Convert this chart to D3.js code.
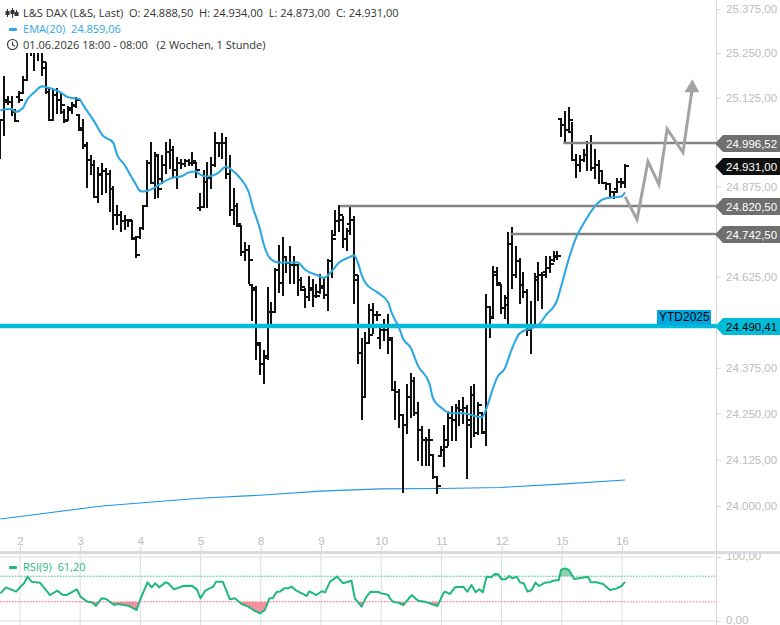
<!DOCTYPE html>
<html lang="de">
<head>
<meta charset="utf-8">
<title>L&amp;S DAX</title>
<script src="https://cdn.jsdelivr.net/npm/d3@7"></script>
<style>
  html, body { margin: 0; padding: 0; background: #fff; }
  svg { display: block; }
  .axis text { font-family: "Liberation Sans", Arial, sans-serif; font-size: 11.5px; fill: #bdbdbd; }
  .axis path, .axis line { stroke: #d6d6d6; }
  .legend { font-family: "Open Sans", sans-serif; font-size: 11.05px; }
  .tag { font-family: "Liberation Sans", Arial, sans-serif; font-size: 11.5px; }
</style>
</head>
<body>
<svg id="chart" width="780" height="625"></svg>
<script>
// Hourly OHLC bars, two weeks of L&S DAX
const highs = [25061,25182,25125,25125,25089,25139,25182,25250,25270,25270,25270,25270,25222,25151,25145,25148,25136,25089,25098,25109,25123,
25075,25061,24997,24959,24945,24928,24939,24925,24917,24875,24820,24803,24792,24783,24778,24736,24761,24820,24947,
24997,24970,24964,24959,24997,25006,24986,24956,24950,24950,24950,24970,24942,24853,24917,24942,24956,25025,24997,25022,
25011,24959,24867,24825,24764,24719,24711,24603,24597,24442,24422,24594,24553,24647,24711,24733,24680,24706,24680,24658,
24622,24592,24625,24617,24603,24630,24622,24672,24750,24806,24822,24789,24756,24814,24789,24628,24453,24469,24547,24550,
24528,24480,24505,24519,24455,24335,24313,24246,24327,24359,24348,24278,24213,24183,24205,24138,24078,24159,24216,24254,
24267,24273,24283,24291,24270,24321,24329,24278,24251,24575,24542,24653,24650,24603,24572,24745,24759,24708,24675,24636,
24589,24555,24633,24664,24636,24680,24680,24692,24692,25064,25084,25095,25053,24964,24959,24978,25000,25017,24978,24945,
24917,24886,24881,24861,24895,24895,24934];
const lows = [24956,25020,25106,25075,25059,25111,25136,25173,25244,25202,25230,25188,25136,25061,25061,25081,25081,25056,25061,25081,25098,
25034,24984,24875,24909,24845,24831,24853,24861,24806,24756,24770,24750,24756,24764,24728,24680,24733,24756,24820,
24886,24842,24847,24886,24914,24928,24903,24872,24928,24931,24936,24936,24903,24811,24817,24817,24872,24931,24959,24956,
24900,24797,24770,24764,24686,24672,24608,24505,24400,24359,24332,24400,24492,24528,24583,24575,24639,24608,24608,24575,
24589,24542,24561,24544,24569,24580,24567,24533,24625,24739,24750,24706,24700,24742,24553,24389,24235,24294,24442,24469,
24505,24428,24450,24416,24313,24235,24213,24038,24197,24240,24246,24124,24111,24111,24111,24075,24035,24135,24108,24165,
24178,24178,24219,24224,24075,24159,24189,24194,24197,24165,24458,24511,24603,24525,24511,24489,24594,24625,24553,24569,
24464,24416,24492,24561,24539,24625,24639,24667,24675,25017,24997,25028,24950,24903,24917,24945,24922,24922,24900,24886,
24886,24867,24847,24842,24861,24875,24873];
const opens = [25047,25061,25111,25111,25084,25125,25136,25173,25262,25262,25262,25262,25207,25139,25061,25131,25117,25084,25061,25089,25100,
25075,25039,24989,24950,24936,24845,24906,24917,24909,24867,24797,24797,24778,24781,24778,24728,24736,24759,24820,
24942,24886,24961,24895,24936,24972,24978,24922,24942,24939,24945,24942,24942,24814,24817,24889,24900,24936,24997,24997,
24997,24909,24811,24820,24764,24692,24700,24603,24589,24436,24386,24408,24492,24528,24644,24608,24678,24664,24658,24658,
24617,24589,24569,24589,24572,24583,24594,24575,24667,24739,24778,24783,24728,24770,24783,24617,24416,24294,24442,24533,
24519,24455,24478,24478,24455,24313,24308,24246,24219,24294,24340,24251,24205,24178,24178,24138,24078,24135,24151,24178,
24237,24232,24264,24259,24264,24219,24300,24197,24251,24197,24542,24514,24630,24603,24539,24547,24714,24630,24667,24603,
24583,24478,24492,24617,24630,24639,24650,24672,24683,25064,25047,25034,25028,24950,24936,24950,24964,24997,24928,24936,
24917,24886,24881,24859,24867,24889,24888.5];
const closes = [25061,25117,25111,25084,25059,25117,25173,25262,25262,25262,25262,25224,25151,25061,25131,25117,25103,25059,25095,25103,25117,
25034,24992,24950,24936,24845,24909,24917,24909,24867,24797,24797,24778,24781,24781,24733,24686,24759,24820,24942,
24886,24964,24867,24936,24972,24978,24922,24942,24939,24945,24942,24945,24922,24817,24889,24900,24936,24997,24997,24997,
24909,24811,24820,24770,24692,24700,24672,24594,24442,24386,24402,24528,24528,24644,24608,24678,24664,24658,24658,24617,
24597,24569,24594,24572,24572,24600,24575,24667,24728,24778,24795,24728,24750,24783,24630,24416,24294,24442,24464,24519,
24519,24478,24478,24450,24313,24308,24246,24219,24294,24340,24251,24205,24178,24178,24178,24078,24054,24151,24159,24237,
24232,24264,24259,24264,24232,24300,24197,24273,24200,24542,24511,24639,24608,24539,24567,24714,24630,24667,24603,24583,
24478,24492,24625,24630,24630,24650,24661,24678,24683,25047,25034,25061,24950,24936,24950,24964,24997,24928,24936,24917,
24886,24881,24861,24861,24889,24886,24931];

// EMA(20), sampled at bar positions
const emaBars = [0,3,4,6,7,9,11,13,16,18,21,22,25,27,30,31,33,34,36,37,38,41,43,46,48,50,52,53,55,58,60,61,64,66,67,69,70,72,74,76,79,81,84,86,88,90,92,94,95,96,97,100,103,104,106,107,109,111,114,115,117,120,123,128,129,131,132,134,136,138,141,143,145,148,149,151,153,155,157,159,160,163,165,166];
const emaValues = [25089,25092,25084,25095,25117,25139,25156,25151,25139,25125,25120,25103,25056,25020,24997,24964,24936,24917,24881,24864,24861,24872,24886,24900,24903,24914,24917,24909,24903,24914,24931,24925,24895,24859,24820,24756,24714,24672,24664,24664,24664,24644,24630,24622,24639,24664,24675,24683,24664,24630,24608,24583,24555,24525,24483,24455,24430,24380,24332,24291,24267,24251,24251,24240,24259,24321,24348,24372,24428,24469,24483,24492,24519,24561,24597,24672,24733,24772,24806,24831,24839,24845,24847,24859.06];

// Long-term average, thin line near the bottom
const longAvgBars = [0,27,53,69,85,101,117,133,149,166];
const longAvgValues = [23965,24000,24021,24029,24040,24046,24047,24050,24059,24070];

// RSI(9) readings at bar positions
const rsiBars = [0,1.5,4.2,5.2,6.3,7.2,8.3,10.5,13.2,15.1,16.6,17.6,20.3,21.3,23.1,24.3,25.4,26.9,28.1,30.2,31.3,34,36.2,37.1,39.1,40.2,41.1,42.2,43.9,44.6,46.1,48.6,50.8,52.2,53.2,54.4,56.6,57.3,59.1,61,62.3,64.1,65.9,67.2,69,70.3,71.5,72.4,73.4,74.3,75.4,76.5,77.4,78.7,81.4,82.1,84,85.4,86.3,87.6,89.5,91.1,93.3,94.2,96,97.3,98.4,100.4,101.3,103.1,103.5,104.4,105.7,107.1,109.3,111,112.8,114.6,116.2,117.7,118.1,119.5,120.8,123,124.1,125.2,126.3,127.3,128.2,129.2,130.4,131.4,132.3,133.2,134.3,135.2,136.1,137.2,138.1,139.1,140.1,141.2,142.2,143.2,144.7,146,146.9,148.4,149,150,151.1,152.5,156.2,156.9,158.4,160.2,162,163.8,165.1,166];
const rsiValues = [43.2,52.6,45.8,52.6,58.9,69.3,61.5,59.9,40.6,47.4,40.6,40.6,49.5,38,30.2,29.2,23.5,35.4,34.4,25,26.6,24,17.2,32.8,60.4,52.6,58.9,52.6,60.4,58.9,49.5,54.7,55.2,49.5,35.4,47.4,53.7,61.5,61.5,33.9,35.4,26.6,22.4,17.2,12,17.2,35.4,35.4,45.3,45.9,51,51,53.7,47.4,39.1,46.4,40.6,46.4,44.8,61.5,69.3,58.9,63,35.4,22.4,38,45.8,45.3,43.2,40.6,35.4,30.2,28.7,25,40.6,31.8,30.2,26.6,23.5,43.2,45.8,42.2,52.6,53.7,45.8,56.3,44.8,49.5,44.8,69.3,68.2,73.4,72.9,65.1,65.1,70.3,66.7,69.3,60.4,58.9,45.8,48.5,59.9,54.7,59.9,60.4,63,64.1,79.7,82.3,79.7,65.6,69.3,60.4,60.4,57.8,48.5,51,54.7,61.2];

// Projected path drawn by hand on the chart
const pathBars = [166,169.2,172.1,175,177.2,181.4,183.8];
const pathPrices = [24847,24783,24945,24881,25036,24970,25145];
const pathApex = [183.9,25176];

// Horizontal levels: price, first bar, label colour
const levelPrices = [24996.52,24820.5,24742.5];
const levelStartBars = [149.6,90.2,135.6];
const lastClose = 24931;
const ytdLevel = 24490.41;

const priceTicks = [25375,25250,25125,24875,24625,24375,24250,24125,24000];
const rsiTicks = [100,0];
const dayTickBars = [5.2,21.2,37.2,53.2,69.2,85.2,101.2,117.2,133.2,149.2,165.2];
const dayTickLabels = ["2","3","4","5","8","9","10","11","12","15","16"];

const de = d3.formatLocale({decimal: ",", thousands: ".", grouping: [3], currency: ["", " €"]});
const money = de.format(",.2f");

const svg = d3.select("#chart");
const axisX = 716;

const x = d3.scaleLinear().domain([0, 166]).range([0.4, 625]);
const y = d3.scaleLog().domain([24000, 25375]).range([506, 9]);
const rsiY = d3.scaleLinear().domain([0, 100]).range([621, 557]);

const px = i => Math.round(x(i));
const py = v => Math.round(y(v));

// RSI pane: grid lines behind everything
const rsiPane = svg.append("g");
rsiPane.selectAll("line.vgrid").data(dayTickBars).join("line")
  .attr("x1", d => x(d)).attr("x2", d => x(d)).attr("y1", 553).attr("y2", 625)
  .attr("stroke", "#dcdde3");
rsiPane.selectAll("line.hgrid").data(rsiTicks).join("line")
  .attr("x1", 0).attr("x2", axisX).attr("y1", d => rsiY(d)).attr("y2", d => rsiY(d))
  .attr("stroke", "#dcdde3");

// Long-term average
svg.append("path")
  .attr("d", d3.line().x((d, i) => x(longAvgBars[i])).y(d => y(d))(longAvgValues))
  .attr("fill", "none").attr("stroke", "#2196e3").attr("stroke-width", 1.1);

// OHLC bars
const bars = svg.append("g").attr("stroke", "#111").attr("stroke-width", 2).attr("shape-rendering", "crispEdges");
const barIdx = d3.range(highs.length);
bars.selectAll("line.hl").data(barIdx).join("line")
  .attr("x1", px).attr("x2", px)
  .attr("y1", i => py(highs[i]) - 1).attr("y2", i => py(lows[i]) + 1);
bars.selectAll("line.open").data(barIdx).join("line")
  .attr("x1", i => px(i) - 3).attr("x2", px)
  .attr("y1", i => py(opens[i])).attr("y2", i => py(opens[i]));
bars.selectAll("line.close").data(barIdx).join("line")
  .attr("x1", px).attr("x2", i => px(i) + 4)
  .attr("y1", i => py(closes[i])).attr("y2", i => py(closes[i]));

// White backing behind the legend block
svg.append("rect").attr("x", 0).attr("y", 0).attr("width", 420).attr("height", 53).attr("fill", "#fff");

// Horizontal level lines
svg.selectAll("line.level").data(levelPrices).join("line")
  .attr("x1", (d, i) => x(levelStartBars[i])).attr("x2", axisX)
  .attr("y1", d => py(d)).attr("y2", d => py(d))
  .attr("stroke", "#848484").attr("stroke-width", 2.4);

// Year-to-date reference line
svg.append("line")
  .attr("x1", 0).attr("x2", axisX).attr("y1", py(ytdLevel)).attr("y2", py(ytdLevel))
  .attr("stroke", "#00bcd9").attr("stroke-width", 4.6);

// EMA(20)
svg.append("path")
  .attr("d", d3.line().x((d, i) => x(emaBars[i])).y(d => y(d)).curve(d3.curveMonotoneX)(emaValues))
  .attr("fill", "none").attr("stroke", "#2ea8e2").attr("stroke-width", 2.1);

// Projected zig-zag with arrow head
svg.append("path")
  .attr("d", d3.line().x((d, i) => x(pathBars[i])).y(d => y(d))(pathPrices))
  .attr("fill", "none").attr("stroke", "#a3a3a3").attr("stroke-width", 3);
const ax = x(pathApex[0]), ay = y(pathApex[1]);
svg.append("polygon")
  .attr("points", [[ax, ay], [ax + 7, ay + 13], [ax - 8, ay + 13]].join(" "))
  .attr("fill", "#a3a3a3");

// Right price axis
svg.append("g").attr("class", "axis")
  .attr("transform", `translate(${axisX},0)`)
  .call(d3.axisRight(y).tickValues(priceTicks).tickFormat(money).tickSize(5).tickPadding(5))
  .call(g => g.select(".domain").attr("d", "M0.5,0V625"));

// RSI axis; its labels sit just above the pane edge
svg.append("g").attr("class", "axis")
  .attr("transform", `translate(${axisX},0)`)
  .call(d3.axisRight(rsiY).tickValues(rsiTicks).tickFormat(money).tickSize(5).tickPadding(5))
  .call(g => g.select(".domain").remove())
  .call(g => g.selectAll("text").attr("dy", "0.2em"));

// Price tags on the axis
function tagPath(cy) {
  const p = d3.path();
  p.moveTo(715, cy);
  p.lineTo(723, cy - 8.5);
  p.lineTo(780, cy - 8.5);
  p.lineTo(780, cy + 8.5);
  p.lineTo(723, cy + 8.5);
  p.closePath();
  return p.toString();
}
const tags = levelPrices.map(v => ({v, fill: "#6f6f6f", text: "#fff"}))
  .concat([{v: lastClose, fill: "#111111", text: "#fff"}, {v: ytdLevel, fill: "#00bcd9", text: "#000"}]);
const tagG = svg.selectAll("g.pricetag").data(tags).join("g").attr("class", "tag");
tagG.append("path").attr("d", d => tagPath(py(d.v) + 0.5)).attr("fill", d => d.fill);
tagG.append("text").attr("x", 726).attr("y", d => py(d.v) + 0.5).attr("dy", "0.36em")
  .attr("fill", d => d.text).text(d => money(d.v));

// YTD label box
svg.append("rect").attr("x", 657).attr("y", 310).attr("width", 54).attr("height", 15).attr("fill", "#00a8e0");
svg.append("text").attr("class", "tag").attr("x", 659).attr("y", 321)
  .style("font-size", "12px").attr("fill", "#000").text("YTD2025");

// Divider and day axis
svg.append("rect").attr("x", 0).attr("y", 551).attr("width", 780).attr("height", 3).attr("fill", "#dadbe2");
svg.append("g").attr("class", "axis")
  .attr("transform", "translate(0,551)")
  .call(d3.axisTop(x).tickValues(dayTickBars).tickFormat((d, i) => dayTickLabels[i]).tickSize(5).tickPadding(1))
  .call(g => g.select(".domain").remove());

// RSI guide levels, fill and line
svg.append("clipPath").attr("id", "rsiHi").append("rect")
  .attr("x", 0).attr("y", rsiY(100)).attr("width", axisX).attr("height", rsiY(70) - rsiY(100));
svg.append("clipPath").attr("id", "rsiLo").append("rect")
  .attr("x", 0).attr("y", rsiY(30)).attr("width", axisX).attr("height", rsiY(0) - rsiY(30));
const rsiArea = lvl => d3.area().x((d, i) => x(rsiBars[i])).y0(rsiY(lvl)).y1(d => rsiY(d));
svg.append("path").attr("d", rsiArea(70)(rsiValues)).attr("fill", "#8fd3b4").attr("clip-path", "url(#rsiHi)");
svg.append("path").attr("d", rsiArea(30)(rsiValues)).attr("fill", "#f5909f").attr("clip-path", "url(#rsiLo)");
svg.append("line").attr("x1", 0).attr("x2", axisX).attr("y1", rsiY(70)).attr("y2", rsiY(70))
  .attr("stroke", "#4fbf93").attr("stroke-dasharray", "1.5 1.5");
svg.append("line").attr("x1", 0).attr("x2", axisX).attr("y1", rsiY(30)).attr("y2", rsiY(30))
  .attr("stroke", "#ff6f86").attr("stroke-dasharray", "1.5 1.5");
svg.append("path")
  .attr("d", d3.line().x((d, i) => x(rsiBars[i])).y(d => rsiY(d))(rsiValues))
  .attr("fill", "none").attr("stroke", "#1fb97a").attr("stroke-width", 2).attr("stroke-linejoin", "round");

// Legend block
const legend = svg.append("g").attr("class", "legend");
legend.append("text").attr("x", 23).attr("y", 17).attr("fill", "#333")
  .style("white-space", "pre")
  .text("L&S DAX (L&S, Last)  O: 24.888,50  H: 24.934,00  L: 24.873,00  C: 24.931,00");
legend.append("text").attr("x", 23).attr("y", 33).attr("fill", "#2ea8e2")
  .style("white-space", "pre").text("EMA(20)  24.859,06");
legend.append("text").attr("x", 23).attr("y", 49).attr("fill", "#333")
  .style("white-space", "pre").text("01.06.2026 18:00 - 08:00   (2 Wochen, 1 Stunde)");
legend.append("text").attr("x", 23).attr("y", 571).attr("fill", "#1fb97a")
  .style("white-space", "pre").text("RSI(9)  61,20");
legend.append("rect").attr("x", 9).attr("y", 28).attr("width", 8).attr("height", 3).attr("rx", 1).attr("fill", "#2ea8e2");
legend.append("rect").attr("x", 9).attr("y", 566).attr("width", 8).attr("height", 3).attr("rx", 1).attr("fill", "#1fb97a");

// Small bar-chart glyph
const glyph = legend.append("g").attr("stroke", "#333").attr("stroke-width", 1).attr("fill", "none");
[[7.5, 9, 17], [12.5, 8, 18], [16.5, 10, 16]].forEach(([gx, a, b]) => {
  glyph.append("line").attr("x1", gx).attr("x2", gx).attr("y1", a).attr("y2", b);
  glyph.append("rect").attr("x", gx - 1.5).attr("y", a + 2.5).attr("width", 3).attr("height", 3).attr("fill", "#333");
});

// Clock glyph
const clock = legend.append("g").attr("stroke", "#333").attr("fill", "none").attr("stroke-width", 1.1);
clock.append("circle").attr("cx", 12.5).attr("cy", 44.5).attr("r", 5);
clock.append("path").attr("d", "M12.5,41.5V44.8L14.8,46.2");
</script>
</body>
</html>
